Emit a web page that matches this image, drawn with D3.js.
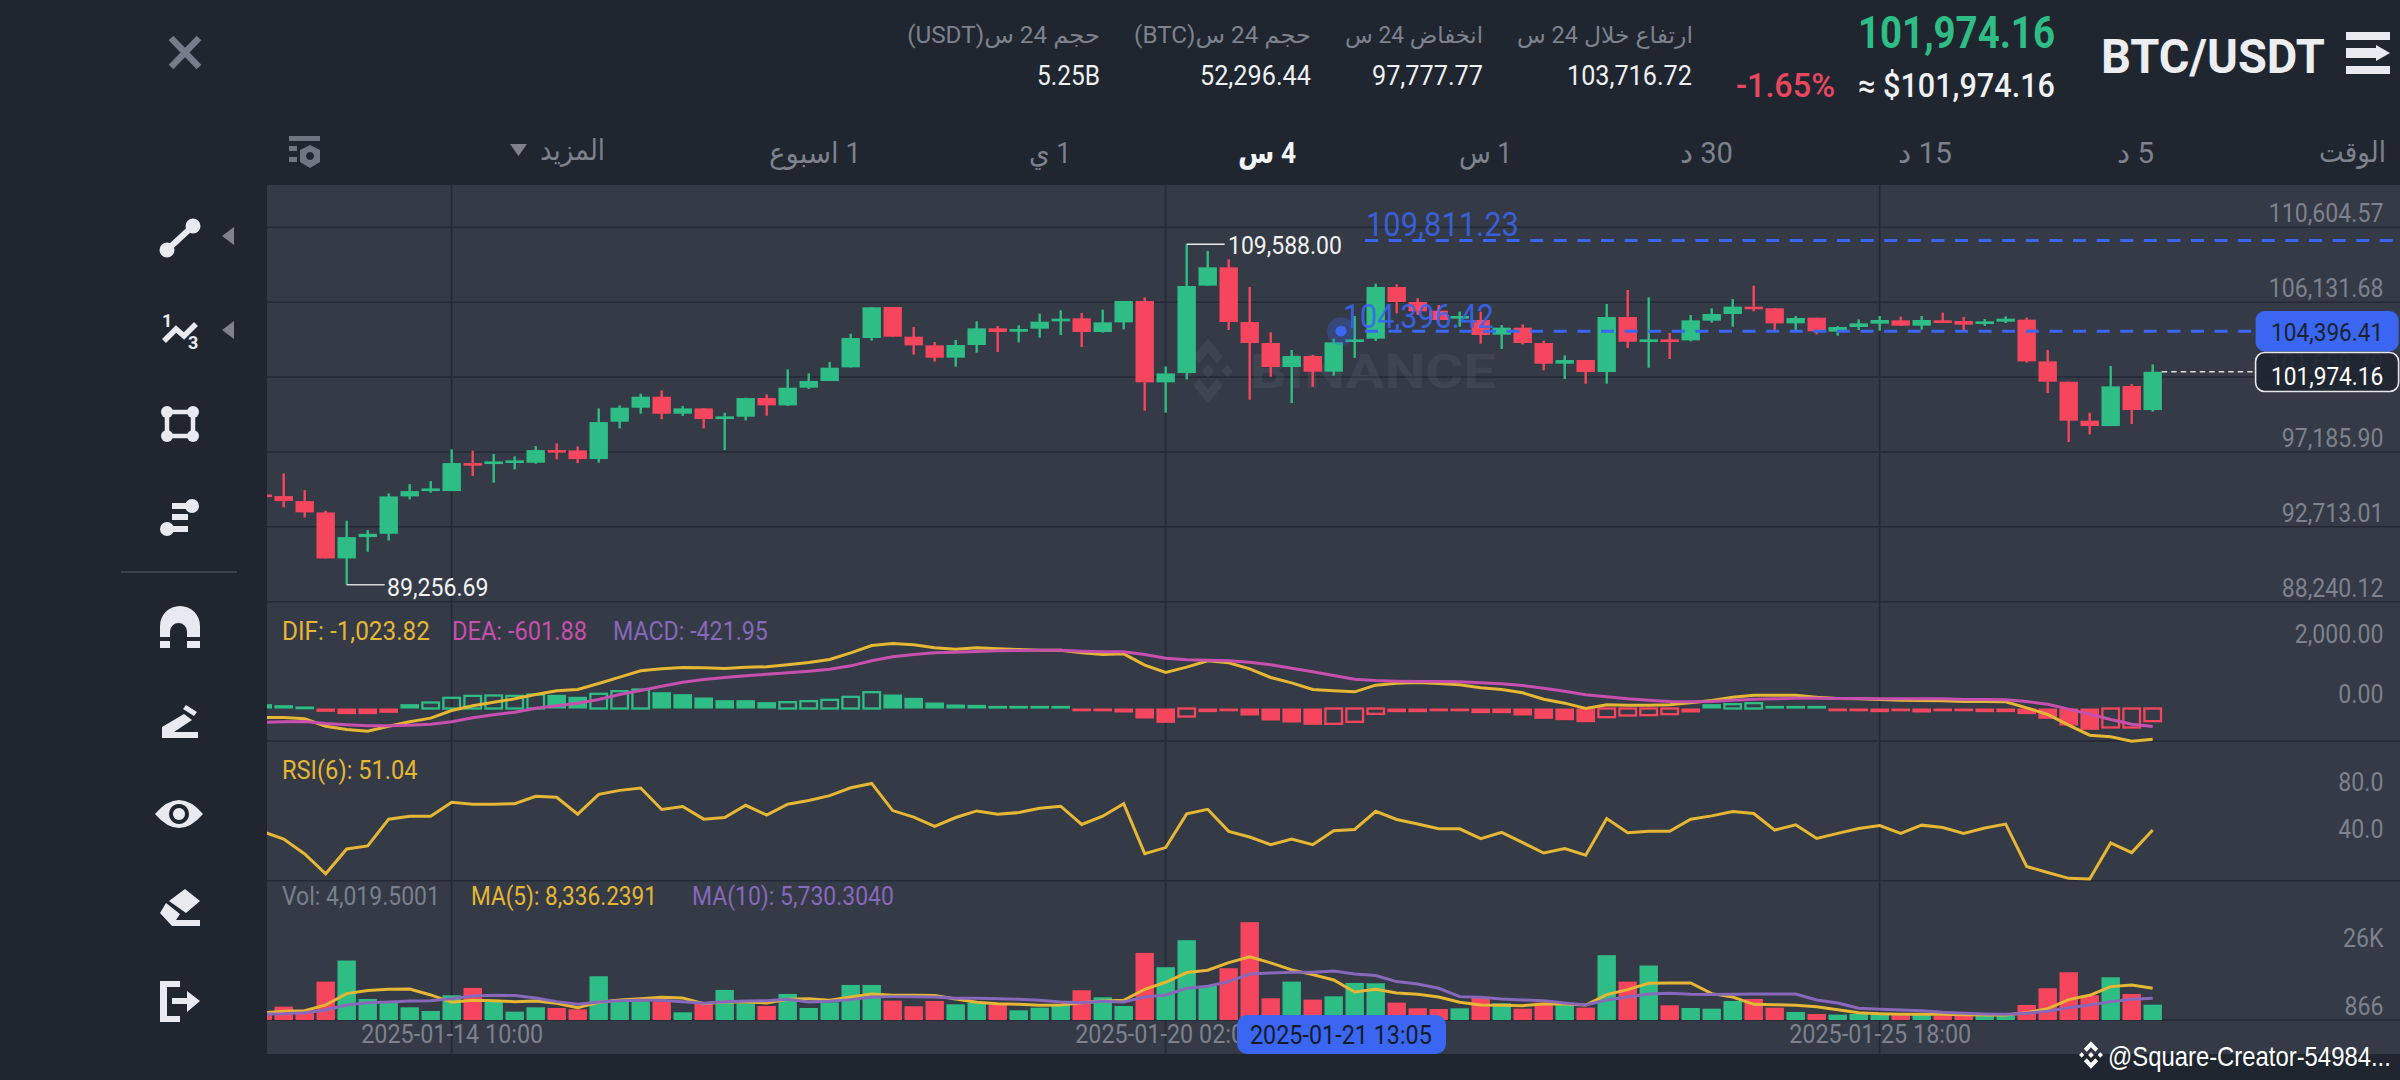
<!DOCTYPE html>
<html><head><meta charset="utf-8">
<script src="https://cdn.jsdelivr.net/npm/d3@7/dist/d3.min.js"></script>
<style>html,body{margin:0;padding:0;background:#1f2630;overflow:hidden}svg{display:block}</style>
</head><body>
<svg id="c" width="2400" height="1080"></svg>
<script>
// ---------- DATA (candle index -1 .. 89, 4h candles) ----------
const opens = [94648,
94549,94250,93573,90824,92099,92298,94529,94848,94848,96521,
96461,96541,96541,97298,97278,96760,98991,99828,100485,99469,
99788,99150,99290,100405,99967,101023,101421,102238,103991,105843,
104071,103553,102816,103573,104569,104369,104549,104987,105166,104349,
104927,106202,101342,101899,107118,108214,104947,103692,102258,102915,
101979,103752,103951,107039,106142,105624,105146,105067,104190,104608,
103692,102457,102676,101959,105246,103752,103911,103851,105027,105425,
105863,105764,104867,105206,104369,104648,104847,105047,104728,105047,
105007,104828,104967,105087,102597,101381,99051,98732,101122,99688];
const closes = [94509,
94250,93573,90824,92099,92298,94529,94848,95007,96521,96381,
96621,96680,97298,97158,96760,98971,99828,100485,99469,99788,
99150,99310,100405,99967,101023,101421,102218,103991,105824,104071,
103553,102816,103573,104569,104349,104529,104967,105146,104349,104927,
106202,101342,101879,107098,108214,104947,103692,102258,102915,101979,
103732,103911,107039,106142,105585,105067,105306,104170,104608,103692,
102457,102676,101959,105246,103772,103911,103752,105047,105425,105863,
105724,104867,105186,104389,104648,104867,105067,104728,105067,104907,
104788,104987,105146,102597,101381,99051,98732,101103,99688,101974.16];
const highs = [94648,
95903,94907,93672,93075,92517,94708,95266,95445,97338,97258,
97059,96919,97537,97696,97517,99788,99967,100664,100863,99927,
99788,99529,100425,100624,102118,101879,102557,104250,105824,105843,
104648,103752,103871,104987,104708,104748,105445,105644,105485,105684,
106202,106421,102298,109588,109190,108692,107039,104330,103274,102975,
103951,105306,107238,107198,106381,105963,105565,105565,104768,104808,
103832,102955,102676,106023,106859,106421,104290,105365,105764,106322,
107118,105764,105306,105206,104708,105106,105306,105266,105306,105505,
105246,105126,105286,105206,103274,101381,99529,102318,101242,102417];
const lows = [94509,
93872,93274,90824,89256.69,91222,91899,94350,94748,94848,95744,
95346,96142,96481,96740,96521,96541,98593,99469,99150,99330,
98593,97298,99071,99349,99947,100943,101421,102238,103832,104071,
102995,102577,102278,103114,103154,103732,104011,104170,103453,104310,
104509,99648,99529,101521,107118,104469,100306,101680,100107,101083,
101740,102796,103812,105465,105365,104987,104668,103652,103334,103612,
102059,101541,101262,101262,103393,102218,102736,103792,104907,104668,
105585,104469,104469,104210,104130,104469,104429,104708,104489,104887,
104469,104708,104887,102517,100704,97777.77,98234,98732,98852,99589];

const macdHist = [144,
111,67,-111,-189,-189,-144,144,200,356,422,
433,422,467,456,389,489,578,633,544,478,
367,278,278,211,211,244,289,389,544,467,
356,200,133,122,89,89,89,89,-67,-78,
-133,-333,-478,-267,-122,-78,-233,-400,-467,-544,
-511,-444,-178,-122,-122,-78,-78,-156,-156,-233,
-344,-389,-456,-289,-233,-222,-189,-133,144,144,
178,89,89,89,-78,-78,-122,-78,-133,-78,
-78,-122,-122,-189,-344,-567,-711,-633,-633,-421.95];
const macdHollow = [7,8,9,10,11,12,15,16,17,24,25,26,27,28,43,50,51,52,63,64,65,66,69,70,87,88,89];
const dif = [-300,
-300,-344,-589,-700,-755,-589,-444,-322,-67,89,
211,322,467,589,633,833,1044,1255,1322,1367,
1355,1333,1378,1389,1455,1533,1633,1855,2100,2166,
2122,2022,1978,2022,1989,1967,1944,1944,1855,1800,
1822,1444,1200,1378,1589,1522,1322,1033,855,633,
589,555,778,844,867,833,789,689,633,522,
311,178,0,122,111,111,122,189,267,378,
444,444,444,378,333,322,300,278,267,255,
233,233,222,22,-200,-555,-889,-944,-1089,-1023.82];
const dea = [-467,
-444,-433,-500,-544,-578,-578,-555,-522,-444,-311,
-211,-122,11,89,178,300,467,600,744,878,
967,1033,1089,1144,1189,1244,1311,1422,1589,1722,
1800,1855,1878,1900,1922,1933,1944,1944,1911,1889,
1889,1800,1678,1622,1611,1589,1544,1455,1344,1222,
1100,978,933,911,900,900,889,855,822,767,
678,578,455,389,322,278,233,222,233,278,
311,322,344,344,333,333,322,322,322,322,
300,300,289,233,144,-22,-189,-367,-522,-601.88];
const rsi6 = [49.6,
43.4,30.7,13.8,34.9,37.5,60.3,62.8,62.8,74.6,73.0,
73.0,73.5,79.7,78.9,64.5,81.4,84.8,86.8,68.5,71.0,
60.3,61.7,72.1,63.7,73.0,76.1,80.3,87.0,90.7,67.6,
62.0,54.1,61.7,67.3,64.5,65.9,69.6,71.3,55.8,62.8,
73.5,31.0,36.1,64.8,68.7,49.9,45.1,38.6,43.4,38.6,
50.4,51.5,67.0,60.0,56.1,52.1,52.1,43.7,49.0,40.3,
31.5,35.2,29.6,60.8,48.7,50.1,49.9,60.3,63.1,66.8,
65.1,51.0,55.5,43.9,48.2,52.4,54.9,48.2,55.2,53.2,
48.2,52.7,56.1,20.0,14.9,9.9,9.3,40.0,31.8,51.04];
const volume = [1842,
3508,2456,10086,15611,5525,4824,3333,2368,6490,8419,
4911,2193,3333,3157,2806,11489,4824,4911,4911,2017,
4210,7893,4385,3683,6841,3157,4648,9209,9209,5087,
3596,4999,4122,4560,4034,2543,3245,3947,7805,5964,
3683,17628,13857,20960,8945,13594,25696,5701,10086,5350,
6227,9735,9647,4560,3070,2894,3070,6051,4385,2982,
4560,3947,3245,17014,10086,14295,3859,3157,2982,4999,
5525,3245,2105,1579,1403,1579,1491,1228,1403,1228,
1140,1052,1052,3947,8332,12541,6490,11226,6841,4019.5];
const ma5 = [1929,
2280,2456,3947,6928,7718,8068,8156,6578,4648,5174,
5087,4824,4999,4385,3245,4648,5262,5613,5964,5788,
4297,4736,4736,4473,5437,5613,5174,6051,6841,6490,
6490,6402,5525,4648,4297,4122,3859,3947,4560,4999,
5174,8068,9910,12453,13067,15084,16575,14997,13155,11927,
10524,7367,8068,7104,6753,6051,4648,3947,3859,3771,
4210,4210,3947,6665,7981,9647,9735,9735,6928,6051,
4122,4034,3859,3508,2719,1929,1666,1491,1491,1491,
1403,1316,1316,1929,2982,5350,6490,8770,9209,8336.24];
const ma10 = [1579,
1666,1929,2631,3947,4560,4736,4999,5087,5613,6314,
6490,6402,5788,4824,4122,4736,5087,5174,5174,4824,
4385,4824,4999,5087,5437,4736,4911,5350,6051,6139,
6139,6051,5701,5701,5613,5437,5174,4736,4560,4911,
4736,6051,6578,8332,8858,10086,12103,12366,12541,12541,
12892,12103,11664,10086,9472,8332,6139,5964,5525,5262,
5087,4473,3947,5262,6051,6841,7016,6753,6665,6753,
6841,6841,6841,5262,4473,3070,2806,2631,2456,2017,
1754,1579,1491,1754,2280,3245,3947,4824,5437,5730.30];

const priceTicks = [110604.57,106131.68,101658.79,97185.90,92713.01,88240.12];
const macdTicks = [2000,0];
const rsiTicks = [80,40];
const volTicks = [26000,866];
const volTickLabels = ["26K","866"];
const xTickIdx = [8,42,76];
const xTickLabels = ["2025-01-14 10:00","2025-01-20 02:00","2025-01-25 18:00"];
const lineA = 109811.23, lineAText = "109,811.23";
const lineB = 104396.41, lineBText = "104,396.42", lineBTag = "104,396.41";
const lastPrice = 101974.16, lastText = "101,974.16";
const highText = "109,588.00", lowText = "89,256.69";
const cursorDate = "2025-01-21 13:05";

const statsLabels = ["ارتفاع خلال 24 س","انخفاض 24 س","حجم 24 س(BTC)","حجم 24 س(USDT)"];
const statsValues = ["103,716.72","97,777.77","52,296.44","5.25B"];
const tabs = ["الوقت","5 د","15 د","30 د","1 س","4 س","1 ي","1 اسبوع","المزيد"];

// ---------- COLOURS ----------
const BG="#1f2630", PANEL="#343a46", GRID="#232a35", UP="#2ebd85", DOWN="#f6465d",
      AXIS="#7d828d", BLUE="#3a66f2", YEL="#e5b734", MAG="#c74fae", PUR="#8768bb", ICON="#e8eaef", DIM="#7a808c";
const FONT='Roboto, "DejaVu Sans", sans-serif';

// ---------- SCALES ----------
const L=267, R=2400, T=185, B=1054;
const x = d3.scaleLinear().domain([-1,89]).range([262.7,2152.7]);
const yP = d3.scaleLinear().domain([110604.57,88240.12]).range([227.3,601.7]);
const yM = d3.scaleLinear().domain([2000,0]).range([648.5,708.5]);
const yR = d3.scaleLinear().domain([80,40]).range([796,843]);
const yV = d3.scaleLinear().domain([0,26000]).range([1020,921]);
const yVL = d3.scaleLinear().domain([866,26000]).range([1020,952]);
const idx = d3.range(-1,90);
const at = (arr,i)=>arr[i+1];

const svg = d3.select("#c");
svg.append("rect").attr("width",2400).attr("height",1080).attr("fill",BG);
svg.append("rect").attr("x",L).attr("y",T).attr("width",R-L).attr("height",B-T).attr("fill",PANEL);
svg.append("defs").append("clipPath").attr("id","pc").append("rect").attr("x",L).attr("y",T).attr("width",R-L).attr("height",B-T);

// text fitted to a measured pixel span
function fit(g,str,x0,x1,base,size,fill,o={}){
  const t=g.append("text").text(str).attr("font-family",o.family||FONT).attr("font-size",size)
    .attr("font-weight",o.weight||400).attr("fill",fill).attr("fill-opacity",o.opacity==null?1:o.opacity);
  if(o.rtl) t.attr("direction","rtl");
  const b=t.node().getBBox(); const sx=(x1-x0)/b.width;
  t.attr("transform",`translate(${x0-b.x*sx},${base}) scale(${sx},1)`);
  return t;
}

// ---------- GRID ----------
const grid = svg.append("g").attr("stroke",GRID).attr("stroke-width",1.6);
priceTicks.forEach(p=>grid.append("line").attr("x1",L).attr("x2",R).attr("y1",yP(p)).attr("y2",yP(p)));
[741,880.7,1020].forEach(y=>grid.append("line").attr("x1",L).attr("x2",R).attr("y1",y).attr("y2",y));
xTickIdx.forEach(i=>grid.append("line").attr("x1",x(i)).attr("x2",x(i)).attr("y1",T).attr("y2",B));

// ---------- WATERMARK ----------
function logo(g,cx,cy,r,sy,fill,op){
  const s=g.append("g").attr("transform",`translate(${cx},${cy}) scale(${r},${r*sy})`).attr("fill",fill).attr("fill-opacity",op);
  const d=(a,b,h)=>s.append("polygon").attr("points",`${a-h},${b} ${a},${b-h} ${a+h},${b} ${a},${b+h}`);
  d(0,0,.22);d(-.72,0,.2);d(.72,0,.2);
  s.append("polygon").attr("points","0,-1 .55,-.45 .33,-.23 0,-.56 -.33,-.23 -.55,-.45");
  s.append("polygon").attr("points","0,1 .55,.45 .33,.23 0,.56 -.33,.23 -.55,.45");
}
logo(svg,1208,371,27,1.2,"#ffffff",.06);
fit(svg,"BINANCE",1250,1496,388,49,"#ffffff",{weight:700,opacity:.06});

// ---------- PLOTS ----------
const plot = svg.append("g").attr("clip-path","url(#pc)");
const colorOf = i=> at(closes,i)>=at(opens,i)?UP:DOWN;
const BW=18.4;

// candles
plot.append("g").selectAll("line").data(idx).join("line")
  .attr("x1",x).attr("x2",x).attr("y1",i=>yP(at(highs,i))).attr("y2",i=>yP(at(lows,i)))
  .attr("stroke",colorOf).attr("stroke-width",2.4);
plot.append("g").selectAll("rect").data(idx).join("rect")
  .attr("x",i=>x(i)-BW/2).attr("width",BW)
  .attr("y",i=>Math.min(yP(at(opens,i)),yP(at(closes,i))))
  .attr("height",i=>Math.max(2.6,Math.abs(yP(at(opens,i))-yP(at(closes,i)))))
  .attr("fill",colorOf);

// high / low callouts
const hiI=43, loI=3;
svg.append("path").attr("fill","none").attr("stroke","#e8e8e8").attr("stroke-width",1.6)
  .attr("d",`M${x(hiI)},${yP(at(highs,hiI))}H${x(hiI)+38}`);
fit(svg,highText,1228,1342,254,25.5,"#f2f2f2");
svg.append("path").attr("fill","none").attr("stroke","#d6d8dc").attr("stroke-width",1.6)
  .attr("d",`M${x(loI)},${yP(at(lows,loI))}H${x(loI)+38}`);
fit(svg,lowText,387,488.6,595.5,25.5,"#f2f2f2");

// blue lines
const dash="13 10.6";
svg.append("line").attr("x1",1365).attr("x2",R).attr("y1",yP(lineA)).attr("y2",yP(lineA))
  .attr("stroke",BLUE).attr("stroke-width",3).attr("stroke-dasharray",dash);
fit(svg,lineAText,1366,1519,235.5,33,BLUE,{opacity:.85});
svg.append("line").attr("x1",1365).attr("x2",2254).attr("y1",yP(lineB)).attr("y2",yP(lineB))
  .attr("stroke",BLUE).attr("stroke-width",3).attr("stroke-dasharray",dash);
svg.append("circle").attr("cx",1341).attr("cy",yP(lineB)).attr("r",14).attr("fill",BLUE).attr("fill-opacity",.3);
svg.append("circle").attr("cx",1341).attr("cy",yP(lineB)).attr("r",5.5).attr("fill",BLUE);
fit(svg,lineBText,1343,1494,327.5,33,BLUE,{opacity:.9});
// last price leader
svg.append("line").attr("x1",x(89)+9).attr("x2",2254).attr("y1",yP(lastPrice)).attr("y2",yP(lastPrice))
  .attr("stroke","#dcdde0").attr("stroke-width",1.6).attr("stroke-dasharray","5.5 4");

// MACD
const mBW=18.6, hollow=new Set(macdHollow);
const mcol=i=>at(macdHist,i)>=0?UP:DOWN;
plot.append("g").selectAll("rect").data(idx).join("rect")
  .attr("x",i=>x(i)-mBW/2+(hollow.has(i)?1:0)).attr("width",i=>mBW-(hollow.has(i)?2:0))
  .attr("y",i=>{const v=at(macdHist,i);return v>=0?yM(v):yM(0);})
  .attr("height",i=>{const v=at(macdHist,i);return Math.max(2.8,Math.abs(yM(v)-yM(0)));})
  .attr("fill",i=>hollow.has(i)?"none":mcol(i))
  .attr("stroke",i=>hollow.has(i)?mcol(i):"none").attr("stroke-width",2.3);
const ln=(arr,y)=>d3.line().x(i=>x(i)).y(i=>y(at(arr,i)))(idx);
const LW=3;
plot.append("path").attr("d",ln(dif,yM)).attr("fill","none").attr("stroke",YEL).attr("stroke-width",LW);
plot.append("path").attr("d",ln(dea,yM)).attr("fill","none").attr("stroke",MAG).attr("stroke-width",LW);
// RSI
plot.append("path").attr("d",ln(rsi6,yR)).attr("fill","none").attr("stroke",YEL).attr("stroke-width",LW);
// Volume
plot.append("g").selectAll("rect").data(idx).join("rect")
  .attr("x",i=>x(i)-BW/2).attr("width",BW)
  .attr("y",i=>yV(at(volume,i))).attr("height",i=>yV(0)-yV(at(volume,i)))
  .attr("fill",colorOf);
plot.append("path").attr("d",ln(ma5,yV)).attr("fill","none").attr("stroke",YEL).attr("stroke-width",LW);
plot.append("path").attr("d",ln(ma10,yV)).attr("fill","none").attr("stroke",PUR).attr("stroke-width",LW);

// ---------- AXES ----------
function yAxis(scale,vals,fmt){
  const g=svg.append("g").attr("transform","translate(2383.4,0)")
    .call(d3.axisLeft(scale).tickValues(vals).tickSize(0).tickPadding(0).tickFormat(fmt));
  g.select(".domain").remove();
  g.selectAll("text").attr("font-family",FONT).attr("font-size",25).attr("fill",AXIS).attr("dy","-5.6")
    .each(function(){this.setAttribute("textLength",this.getComputedTextLength()*.925);this.setAttribute("lengthAdjust","spacingAndGlyphs");});
  return g;
}
yAxis(yP,priceTicks,d3.format(",.2f"));
yAxis(yM,macdTicks,d3.format(",.2f"));
yAxis(yR,rsiTicks,d3.format(".1f"));
yAxis(yVL,volTicks,(d,i)=>volTickLabels[i]);
const xa=svg.append("g").attr("transform","translate(0,1025)")
  .call(d3.axisBottom(x).tickValues(xTickIdx).tickSize(0).tickPadding(0).tickFormat((d,i)=>xTickLabels[i]));
xa.select(".domain").remove();
xa.selectAll("text").attr("font-family",FONT).attr("font-size",25).attr("fill",AXIS)
  .each(function(){this.setAttribute("textLength",182);this.setAttribute("lengthAdjust","spacingAndGlyphs");});

// right-hand tags
function tag(y0,y1,fill,stroke,op){
  svg.append("rect").attr("x",2255.6).attr("y",y0).attr("width",143).attr("height",y1-y0).attr("rx",9)
    .attr("fill",fill).attr("fill-opacity",op==null?1:op).attr("stroke",stroke||"none").attr("stroke-width",1.6);
}
tag(311,351.5,BLUE);
fit(svg,lineBTag,2271,2383.4,340.5,25.5,"#1b2330");
tag(352.5,391.5,BG,"#e6e7ea",.93);
fit(svg,lastText,2271,2383.4,384.5,25.5,"#ffffff");

// cursor date tag
svg.append("rect").attr("x",1237).attr("y",1015).attr("width",209).attr("height",39).attr("rx",10).attr("fill",BLUE);
fit(svg,cursorDate,1250,1432,1044,25.5,"#141b2b");

// ---------- LEGENDS ----------
const LG=26;
fit(svg,"DIF: -1,023.82",282,430,640,LG,YEL);
fit(svg,"DEA: -601.88",452,587,640,LG,MAG);
fit(svg,"MACD: -421.95",613,768,640,LG,PUR);
fit(svg,"RSI(6): 51.04",282,418,779,LG,YEL);
fit(svg,"Vol: 4,019.5001",282,440,905,LG,DIM);
fit(svg,"MA(5): 8,336.2391",471,657,905,LG,YEL);
fit(svg,"MA(10): 5,730.3040",692,894,905,LG,PUR);

// ---------- HEADER ----------
fit(svg,"BTC/USDT",2101,2325,73,49,"#eceef1",{weight:700});
fit(svg,"101,974.16",1858,2055,47.5,44,UP,{weight:700});
fit(svg,"≈ $101,974.16",1858,2055,96.5,33,"#f0f1f3",{weight:500});
fit(svg,"-1.65%",1736,1835,96.5,33,"#e8475f",{weight:500});
const statX=[[1517,1693],[1345,1483],[1134,1311],[907,1100]];
const valX=[[1567,1692],[1372,1483],[1200,1311],[1037,1100]];
statsLabels.forEach((s,i)=>fit(svg,s,statX[i][0],statX[i][1],43,23,"#7d828d",{rtl:true}));
statsValues.forEach((s,i)=>fit(svg,s,valX[i][0],valX[i][1],84.5,27,"#eef0f2"));

const tabX=[[2319,2386],[2117,2154],[1898,1952],[1680,1733],[1459,1512],[1238,1296],[1029,1071],[769,861],[540,605]];
const tabBase=[162,163,163,163,163,163,163,163,160];
tabs.forEach((s,i)=>fit(svg,s,tabX[i][0],tabX[i][1],tabBase[i],29,i===5?"#f4f5f6":"#7d828d",{rtl:true,weight:i===5?700:400}));
svg.append("path").attr("d","M510,144H527L518.5,156Z").attr("fill","#7d828d");

// ---------- ICONS ----------
const I=svg.append("g").attr("fill",ICON).attr("stroke","none");
// close
svg.append("path").attr("d","M171,38L199,67M199,38L171,67").attr("stroke","#767c89").attr("stroke-width",6.5).attr("fill","none");
// menu
I.append("path").attr("d","M2346,32H2390V40H2346ZM2346,48H2376V45L2390,53L2376,61V58H2346ZM2346,66H2390V74H2346Z");
// settings
svg.append("path").attr("fill","#6f7581").attr("fill-rule","evenodd")
  .attr("d","M289,136H320V141H289ZM289,146H297V151H289ZM289,157H297V162H289ZM310,145L320,150V162L310,168L300,162V150ZM310,152A4,4 0 1 0 310.01,152Z");
// line tool
I.append("path").attr("d","M167,250L193,226").attr("stroke",ICON).attr("stroke-width",6);
I.append("ellipse").attr("cx",167).attr("cy",250).attr("rx",7.5).attr("ry",7.5);
I.append("ellipse").attr("cx",193).attr("cy",226).attr("rx",7.5).attr("ry",7.5);
// 1/3
I.append("path").attr("d","M164,341L176,329L184,336L196,324").attr("stroke",ICON).attr("stroke-width",5.5).attr("fill","none");
I.append("text").text("1").attr("x",162).attr("y",327).attr("font-family",FONT).attr("font-weight",700).attr("font-size",18);
I.append("text").text("3").attr("x",188).attr("y",349).attr("font-family",FONT).attr("font-weight",700).attr("font-size",18);
// rectangle
I.append("rect").attr("x",167).attr("y",412).attr("width",26).attr("height",24).attr("fill","none").attr("stroke",ICON).attr("stroke-width",4.5);
[[167,412],[193,412],[167,436],[193,436]].forEach(p=>I.append("circle").attr("cx",p[0]).attr("cy",p[1]).attr("r",6));
// fib
I.append("circle").attr("cx",192).attr("cy",506).attr("r",7);
I.append("circle").attr("cx",167).attr("cy",529).attr("r",7);
I.append("path").attr("d","M172,503H190V509H172ZM172,514H188V520H172ZM172,526H188V532H172Z");
// divider
svg.append("line").attr("x1",121).attr("x2",237).attr("y1",572).attr("y2",572).attr("stroke","#3a404c").attr("stroke-width",2);
// magnet
I.append("path").attr("d","M160,637V626A20,20 0 0 1 200,626V637H187V631.5A8.5,8.5 0 0 0 170,631.5V637ZM160,641H170V648H160ZM187,641H200V648H187Z");
// pencil
I.append("path").attr("d","M162,738V727L184,714L192,720L174,732H198V738ZM186,705L197,712L194,716L183,709Z");
// eye
I.append("path").attr("fill-rule","evenodd").attr("d","M155,814Q179,786 203,814Q179,842 155,814ZM179,804A10,10 0 1 0 179.01,804ZM179,808A6,6 0 1 1 178.99,808Z");
// eraser
I.append("path").attr("d","M185,889L200,901L186,913L169,901ZM166,903L180,914L176,920H200V926H172L160,913Z");
// exit
I.append("path").attr("d","M160,981H180V987H167V1016H180V1022H160ZM172,998H187V991L200,1001L187,1012V1004H172Z");
[[236,222],[330,222]].forEach(([y,xx])=>svg.append("path").attr("d",`M${xx+12},${y-9}V${y+9}L${xx},${y}Z`).attr("fill","#7d828d"));

// ---------- PUBLISHER STAMP ----------
logo(svg,2091,1055,13,1.05,"#ffffff",1);
fit(svg,"@Square-Creator-54984...",2108,2391,1066,27,"#ffffff",{family:'"Liberation Sans", sans-serif'});
</script>
</body></html>
